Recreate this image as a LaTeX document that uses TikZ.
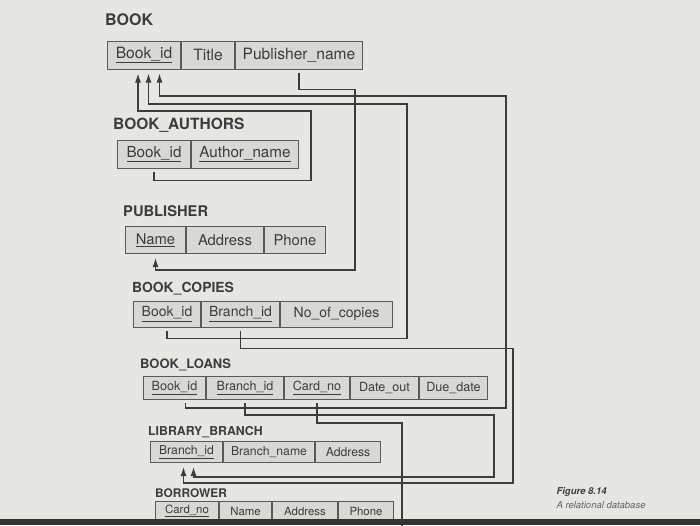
\documentclass[tikz,border=0pt]{standalone}
\usepackage{fontspec}
\setmainfont{TeX Gyre Heros}
\usetikzlibrary{positioning,arrows.meta}
\definecolor{paper}{HTML}{E6E6E3}
\definecolor{cellgray}{HTML}{D8D8D5}
\definecolor{ink}{HTML}{3C3C3C}
\newcommand{\fs}[1]{\fontsize{#1}{#1}\selectfont}
\newcommand{\key}[1]{\underline{#1}}
\tikzset{
  cell/.style={draw=ink!85, fill=cellgray, line width=1pt, text=ink, inner sep=0pt, anchor=west},
  ttl/.style={anchor=west, text=ink, inner sep=0pt},
  fk/.style={draw=ink, line width=1.2pt, shorten <=3pt, shorten >=4pt, -{Latex[length=9pt,width=6pt]}},
  fkline/.style={draw=ink, line width=1.2pt, shorten <=3pt}
}

\begin{document}
\begin{tikzpicture}[x=1pt,y=-1pt]
    \fill[paper] (0,0) rectangle (700,525);
    \useasboundingbox (0,0) rectangle (700,525);
    % BOOK
    \node[ttl, font=\fs{16}\bfseries] (tbook) at (105,20) {BOOK};
    \begin{scope}[nodes={font=\fs{15.6}, minimum height=28pt}]
    \node[cell, minimum width=73pt] (b1) at (107,55) {\key{Book\_id}};
    \node[cell, minimum width=53pt, right=0pt of b1] (b2) {Title};
    \node[cell, minimum width=127pt, right=0pt of b2] (b3) {Publisher\_name};
    \end{scope}
    % BOOK_AUTHORS
    \node[ttl, font=\fs{15.5}\bfseries] (tauth) at (113,125) {BOOK\_AUTHORS};
    \begin{scope}[nodes={font=\fs{15.2}, minimum height=28pt}]
    \node[cell, minimum width=73pt] (ba1) at (117,154) {\key{Book\_id}};
    \node[cell, minimum width=107pt, right=0pt of ba1] (ba2) {\key{Author\_name}};
    \end{scope}
    % PUBLISHER
    \node[ttl, font=\fs{14.7}\bfseries] (tpub) at (123,211) {PUBLISHER};
    \begin{scope}[nodes={font=\fs{14.8}, minimum height=27pt}]
    \node[cell, minimum width=60pt] (p1) at (125,240) {\key{Name}};
    \node[cell, minimum width=77pt, right=0pt of p1] (p2) {Address};
    \node[cell, minimum width=61pt, right=0pt of p2] (p3) {Phone};
    \end{scope}
    % BOOK_COPIES
    \node[ttl, font=\fs{13.9}\bfseries] (tcop) at (132,289) {BOOK\_COPIES};
    \begin{scope}[nodes={font=\fs{14}, minimum height=26pt}]
    \node[cell, minimum width=67pt] (bc1) at (133,314) {\key{Book\_id}};
    \node[cell, minimum width=78pt, right=0pt of bc1] (bc2) {\key{Branch\_id}};
    \node[cell, minimum width=112pt, right=0pt of bc2] (bc3) {No\_of\_copies};
    \end{scope}
    % BOOK_LOANS
    \node[ttl, font=\fs{13}\bfseries] (tloan) at (140,365) {BOOK\_LOANS};
    \begin{scope}[nodes={font=\fs{12.6}, minimum height=23pt}]
    \node[cell, minimum width=62pt] (bl1) at (143,388) {\key{Book\_id}};
    \node[cell, minimum width=77pt, right=0pt of bl1] (bl2) {\key{Branch\_id}};
    \node[cell, minimum width=65pt, right=0pt of bl2] (bl3) {\key{Card\_no}};
    \node[cell, minimum width=68pt, right=0pt of bl3] (bl4) {Date\_out};
    \node[cell, minimum width=68pt, right=0pt of bl4] (bl5) {Due\_date};
    \end{scope}
    % LIBRARY_BRANCH
    \node[ttl, font=\fs{12.3}\bfseries] (tlib) at (148,432) {LIBRARY\_BRANCH};
    \begin{scope}[nodes={font=\fs{12.2}, minimum height=21pt}]
    \node[cell, minimum width=72pt] (lb1) at (150,452) {\key{Branch\_id}};
    \node[cell, minimum width=91pt, right=0pt of lb1] (lb2) {Branch\_name};
    \node[cell, minimum width=65pt, right=0pt of lb2] (lb3) {Address};
    \end{scope}
    % BORROWER
    \node[ttl, font=\fs{11.9}\bfseries] (tbor) at (155,493) {BORROWER};
    \begin{scope}[nodes={font=\fs{11.4}, minimum height=19pt}]
    \node[cell, minimum width=63pt] (br1) at (155,511) {\key{Card\_no}};
    \node[cell, minimum width=52pt, right=0pt of br1] (br2) {Name};
    \node[cell, minimum width=65pt, right=0pt of br2] (br3) {Address};
    \node[cell, minimum width=55pt, right=0pt of br3] (br4) {Phone};
    \end{scope}
    % foreign keys
    \draw[fk] (b3.south) -- ++(0,20) -| (355,270) -| (p1.south);
    \draw[fk] (ba1.south) -- ++(0,12) -| (311,111) -| ([xshift=-6pt]b1.south);
    \draw[fk] (bc1.south) -- ++(0,11) -| (407,104) -| ([xshift=4.5pt]b1.south);
    \draw[fk] ([xshift=11pt]bl1.south) -- ++(0,8) -| (506,96) -| ([xshift=15.5pt]b1.south);
    \draw[fk] (bc2.south) -- ++(0,21) -| (513,483) -| ([xshift=-3pt]lb1.south);
    \draw[fk] (bl2.south) -- ++(0,15) -| (494,477) -| ([xshift=7pt]lb1.south);
    \coordinate (brd) at (402,530);
    \draw[fkline] (bl3.south) -- ++(0,23) -| (brd);
    % caption
    \node[anchor=west, font=\fs{9.5}\bfseries\itshape, text=ink] (fig) at (553,492) {Figure 8.14};
    \node[font=\fs{9.5}\itshape, text=ink!80, below right=-2pt and 0pt of fig.south west] (cap) {A relational database};
    \fill[black!80] (0,519) rectangle (700,525);
\end{tikzpicture}
\end{document}
